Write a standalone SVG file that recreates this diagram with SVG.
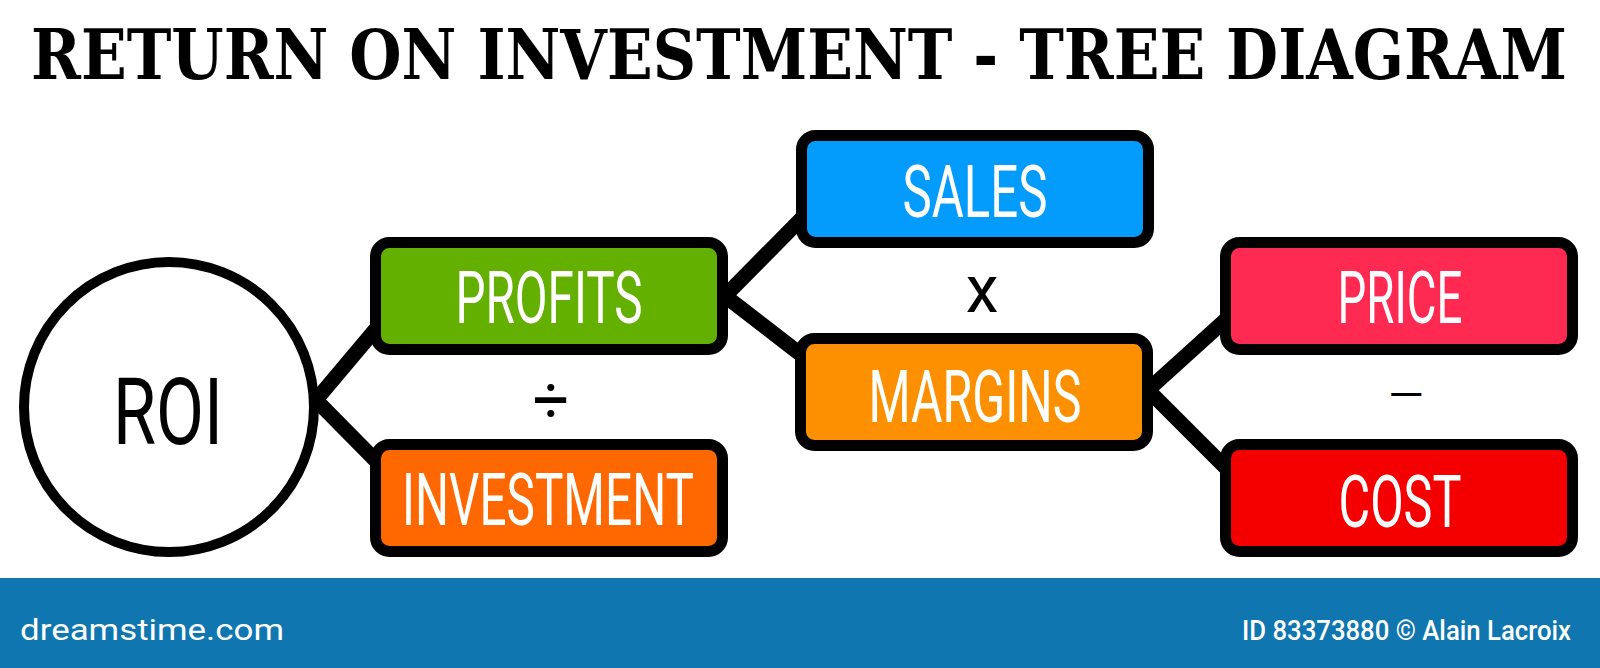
<svg xmlns="http://www.w3.org/2000/svg" width="1600" height="668" viewBox="0 0 1600 668">
<style>
.box{stroke:#000;stroke-width:11}
.lbl{font-family:Roboto,"Liberation Sans",sans-serif;font-size:73px;fill:#fff;text-anchor:middle}
.op{font-family:Roboto,"Liberation Sans",sans-serif;fill:#000;text-anchor:middle}
.con{stroke:#000;stroke-width:15;stroke-linejoin:miter;fill:none}
</style>
<rect width="1600" height="668" fill="#fff"/>
<g transform="translate(31,79) scale(1,1.38)">
<text x="0" y="0" font-family="'DejaVu Serif','Liberation Serif',serif" font-weight="bold" font-size="50" textLength="1536" lengthAdjust="spacingAndGlyphs" fill="#000">RETURN ON INVESTMENT - TREE DIAGRAM</text>
</g>
<g id="connectors">
<polyline class="con" points="385,318 316,400 385,470"/>
<polyline class="con" points="808,212 725,296 808,360"/>
<polyline class="con" points="1232,314 1148,390 1232,474"/>
</g>
<g id="roi">
<circle cx="169" cy="407" r="145" fill="#fff" stroke="#000" stroke-width="10"/>
<text class="op" x="168" y="444" font-size="93" textLength="110" lengthAdjust="spacingAndGlyphs">ROI</text>
</g>
<g id="profits">
<rect class="box" x="375.5" y="242.5" width="347" height="107" rx="14" fill="#64b000"/>
<text class="lbl" x="549" y="323" textLength="187" lengthAdjust="spacingAndGlyphs">PROFITS</text>
</g>
<g id="investment">
<rect class="box" x="375.5" y="444.5" width="347" height="107" rx="14" fill="#ff6800"/>
<text class="lbl" x="548" y="525" textLength="292" lengthAdjust="spacingAndGlyphs">INVESTMENT</text>
</g>
<g id="sales">
<rect class="box" x="801.5" y="135.5" width="347" height="107" rx="14" fill="#039bfc"/>
<text class="lbl" x="975" y="217" textLength="145" lengthAdjust="spacingAndGlyphs">SALES</text>
</g>
<g id="margins">
<rect class="box" x="800.5" y="338.5" width="347" height="107" rx="14" fill="#fd9000"/>
<text class="lbl" x="975" y="422" textLength="213" lengthAdjust="spacingAndGlyphs">MARGINS</text>
</g>
<g id="price">
<rect class="box" x="1225.5" y="242.5" width="347" height="107" rx="14" fill="#ff2a52"/>
<text class="lbl" x="1400" y="323" textLength="125" lengthAdjust="spacingAndGlyphs">PRICE</text>
</g>
<g id="cost">
<rect class="box" x="1225.5" y="444.5" width="347" height="107" rx="14" fill="#f50000"/>
<text class="lbl" x="1400" y="527" textLength="123" lengthAdjust="spacingAndGlyphs">COST</text>
</g>
<g id="operators">
<text class="op" x="551" y="422" font-size="64">÷</text>
<text class="op" x="982" y="312" font-size="66">x</text>
<text class="op" x="1406" y="409" font-size="40" textLength="36" lengthAdjust="spacingAndGlyphs">—</text>
</g>
<g id="footer">
<rect x="0" y="578" width="1600" height="90" fill="#0f76b0"/>
<text x="20" y="640" font-family="Roboto,'Liberation Sans',sans-serif" font-size="30" fill="#fff" textLength="264" lengthAdjust="spacingAndGlyphs">dreamstime.com</text>
<text x="1242" y="640" font-family="Roboto,'Liberation Sans',sans-serif" font-weight="500" font-size="28" fill="#fff" textLength="329" lengthAdjust="spacingAndGlyphs">ID 83373880 © Alain Lacroix</text>
</g>
</svg>
